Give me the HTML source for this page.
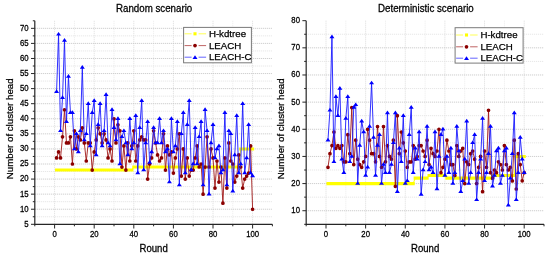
<!DOCTYPE html>
<html><head><meta charset="utf-8"><title>Number of cluster head</title>
<style>
html,body{margin:0;padding:0;background:#fff;}
body{width:550px;height:258px;overflow:hidden;}
svg{display:block;font-family:"Liberation Sans", Arial, sans-serif;}
text{stroke:#000;stroke-width:0.25px;}
</style></head>
<body><svg width="550" height="258" viewBox="0 0 550 258">
<rect width="550" height="258" fill="#fff"/>
<path d="M74.4 20.79L74.4 224.3M114 20.79L114 224.3M153.6 20.79L153.6 224.3M193.2 20.79L193.2 224.3M232.8 20.79L232.8 224.3" stroke="#ebebeb" stroke-width="1" stroke-dasharray="1 1" fill="none"/>
<path d="M54.6 20.79L54.6 224.3M94.2 20.79L94.2 224.3M133.8 20.79L133.8 224.3M173.4 20.79L173.4 224.3M213 20.79L213 224.3M252.6 20.79L252.6 224.3" stroke="#dcdcdc" stroke-width="1" stroke-dasharray="1 1" fill="none"/>
<path d="M34.8 216.76L272.4 216.76M34.8 201.69L272.4 201.69M34.8 186.61L272.4 186.61M34.8 171.54L272.4 171.54M34.8 156.46L272.4 156.46M34.8 141.39L272.4 141.39M34.8 126.31L272.4 126.31M34.8 111.24L272.4 111.24M34.8 96.16L272.4 96.16M34.8 81.09L272.4 81.09M34.8 66.01L272.4 66.01M34.8 50.94L272.4 50.94M34.8 35.86L272.4 35.86" stroke="#e2e2e2" stroke-width="1" stroke-dasharray="1 1" fill="none"/>
<path d="M34.8 209.23L272.4 209.23M34.8 194.15L272.4 194.15M34.8 179.08L272.4 179.08M34.8 164L272.4 164M34.8 148.93L272.4 148.93M34.8 133.85L272.4 133.85M34.8 118.78L272.4 118.78M34.8 103.7L272.4 103.7M34.8 88.62L272.4 88.62M34.8 73.55L272.4 73.55M34.8 58.47L272.4 58.47M34.8 43.4L272.4 43.4M34.8 28.33L272.4 28.33" stroke="#c4c4c4" stroke-width="1" stroke-dasharray="1 1" fill="none"/>
<polyline points="56.58,170.03 58.56,170.03 60.54,170.03 62.52,170.03 64.5,170.03 66.48,170.03 68.46,170.03 70.44,170.03 72.42,170.03 74.4,170.03 76.38,170.03 78.36,170.03 80.34,170.03 82.32,170.03 84.3,170.03 86.28,170.03 88.26,170.03 90.24,170.03 92.22,170.03 94.2,170.03 96.18,170.03 98.16,170.03 100.14,170.03 102.12,170.03 104.1,170.03 106.08,170.03 108.06,170.03 110.04,170.03 112.02,170.03 114,170.03 115.98,170.03 117.96,170.03 119.94,170.03 121.92,170.03 123.9,170.03 125.88,170.03 127.86,170.03 129.84,170.03 131.82,170.03 133.8,167.02 135.78,167.02 137.76,167.02 139.74,167.02 141.72,167.02 143.7,167.02 145.68,167.02 147.66,167.02 149.64,167.02 151.62,167.02 153.6,167.02 155.58,167.02 157.56,167.02 159.54,167.02 161.52,167.02 163.5,167.02 165.48,167.02 167.46,167.02 169.44,167.02 171.42,167.02 173.4,167.02 175.38,167.02 177.36,167.02 179.34,167.02 181.32,167.02 183.3,167.02 185.28,167.02 187.26,167.02 189.24,167.02 191.22,167.02 193.2,167.02 195.18,167.02 197.16,167.02 199.14,167.02 201.12,167.02 203.1,167.02 205.08,167.02 207.06,167.02 209.04,167.02 211.02,167.02 213,167.02 214.98,167.02 216.96,167.02 218.94,167.02 220.92,167.02 222.9,167.02 224.88,167.02 226.86,167.02 228.84,167.02 230.82,167.02 232.8,167.02 234.78,167.02 236.76,167.02 238.74,167.02 240.72,148.93 242.7,148.93 244.68,148.93 246.66,148.93 248.64,148.93 250.62,148.93 252.6,148.93" fill="none" stroke="#ffff00" stroke-width="1"/>
<path d="M55.03 168.48h3.1v3.1h-3.1zM57.01 168.48h3.1v3.1h-3.1zM58.99 168.48h3.1v3.1h-3.1zM60.97 168.48h3.1v3.1h-3.1zM62.95 168.48h3.1v3.1h-3.1zM64.93 168.48h3.1v3.1h-3.1zM66.91 168.48h3.1v3.1h-3.1zM68.89 168.48h3.1v3.1h-3.1zM70.87 168.48h3.1v3.1h-3.1zM72.85 168.48h3.1v3.1h-3.1zM74.83 168.48h3.1v3.1h-3.1zM76.81 168.48h3.1v3.1h-3.1zM78.79 168.48h3.1v3.1h-3.1zM80.77 168.48h3.1v3.1h-3.1zM82.75 168.48h3.1v3.1h-3.1zM84.73 168.48h3.1v3.1h-3.1zM86.71 168.48h3.1v3.1h-3.1zM88.69 168.48h3.1v3.1h-3.1zM90.67 168.48h3.1v3.1h-3.1zM92.65 168.48h3.1v3.1h-3.1zM94.63 168.48h3.1v3.1h-3.1zM96.61 168.48h3.1v3.1h-3.1zM98.59 168.48h3.1v3.1h-3.1zM100.57 168.48h3.1v3.1h-3.1zM102.55 168.48h3.1v3.1h-3.1zM104.53 168.48h3.1v3.1h-3.1zM106.51 168.48h3.1v3.1h-3.1zM108.49 168.48h3.1v3.1h-3.1zM110.47 168.48h3.1v3.1h-3.1zM112.45 168.48h3.1v3.1h-3.1zM114.43 168.48h3.1v3.1h-3.1zM116.41 168.48h3.1v3.1h-3.1zM118.39 168.48h3.1v3.1h-3.1zM120.37 168.48h3.1v3.1h-3.1zM122.35 168.48h3.1v3.1h-3.1zM124.33 168.48h3.1v3.1h-3.1zM126.31 168.48h3.1v3.1h-3.1zM128.29 168.48h3.1v3.1h-3.1zM130.27 168.48h3.1v3.1h-3.1zM132.25 165.47h3.1v3.1h-3.1zM134.23 165.47h3.1v3.1h-3.1zM136.21 165.47h3.1v3.1h-3.1zM138.19 165.47h3.1v3.1h-3.1zM140.17 165.47h3.1v3.1h-3.1zM142.15 165.47h3.1v3.1h-3.1zM144.13 165.47h3.1v3.1h-3.1zM146.11 165.47h3.1v3.1h-3.1zM148.09 165.47h3.1v3.1h-3.1zM150.07 165.47h3.1v3.1h-3.1zM152.05 165.47h3.1v3.1h-3.1zM154.03 165.47h3.1v3.1h-3.1zM156.01 165.47h3.1v3.1h-3.1zM157.99 165.47h3.1v3.1h-3.1zM159.97 165.47h3.1v3.1h-3.1zM161.95 165.47h3.1v3.1h-3.1zM163.93 165.47h3.1v3.1h-3.1zM165.91 165.47h3.1v3.1h-3.1zM167.89 165.47h3.1v3.1h-3.1zM169.87 165.47h3.1v3.1h-3.1zM171.85 165.47h3.1v3.1h-3.1zM173.83 165.47h3.1v3.1h-3.1zM175.81 165.47h3.1v3.1h-3.1zM177.79 165.47h3.1v3.1h-3.1zM179.77 165.47h3.1v3.1h-3.1zM181.75 165.47h3.1v3.1h-3.1zM183.73 165.47h3.1v3.1h-3.1zM185.71 165.47h3.1v3.1h-3.1zM187.69 165.47h3.1v3.1h-3.1zM189.67 165.47h3.1v3.1h-3.1zM191.65 165.47h3.1v3.1h-3.1zM193.63 165.47h3.1v3.1h-3.1zM195.61 165.47h3.1v3.1h-3.1zM197.59 165.47h3.1v3.1h-3.1zM199.57 165.47h3.1v3.1h-3.1zM201.55 165.47h3.1v3.1h-3.1zM203.53 165.47h3.1v3.1h-3.1zM205.51 165.47h3.1v3.1h-3.1zM207.49 165.47h3.1v3.1h-3.1zM209.47 165.47h3.1v3.1h-3.1zM211.45 165.47h3.1v3.1h-3.1zM213.43 165.47h3.1v3.1h-3.1zM215.41 165.47h3.1v3.1h-3.1zM217.39 165.47h3.1v3.1h-3.1zM219.37 165.47h3.1v3.1h-3.1zM221.35 165.47h3.1v3.1h-3.1zM223.33 165.47h3.1v3.1h-3.1zM225.31 165.47h3.1v3.1h-3.1zM227.29 165.47h3.1v3.1h-3.1zM229.27 165.47h3.1v3.1h-3.1zM231.25 165.47h3.1v3.1h-3.1zM233.23 165.47h3.1v3.1h-3.1zM235.21 165.47h3.1v3.1h-3.1zM237.19 165.47h3.1v3.1h-3.1zM239.17 147.38h3.1v3.1h-3.1zM241.15 147.38h3.1v3.1h-3.1zM243.13 147.38h3.1v3.1h-3.1zM245.11 147.38h3.1v3.1h-3.1zM247.09 147.38h3.1v3.1h-3.1zM249.07 147.38h3.1v3.1h-3.1zM251.05 147.38h3.1v3.1h-3.1z" fill="#ffff00"/>
<polyline points="56.58,157.97 58.56,151.94 60.54,157.97 62.52,136.87 64.5,109.73 66.48,142.9 68.46,142.9 70.44,136.87 72.42,164 74.4,130.84 76.38,148.93 78.36,136.87 80.34,139.88 82.32,127.82 84.3,142.9 86.28,160.99 88.26,142.9 90.24,142.9 92.22,170.03 94.2,151.94 96.18,139.88 98.16,127.82 100.14,133.85 102.12,142.9 104.1,133.85 106.08,139.88 108.06,157.97 110.04,148.93 112.02,160.99 114,118.78 115.98,142.9 117.96,124.81 119.94,130.84 121.92,167.02 123.9,145.91 125.88,170.03 127.86,142.9 129.84,160.99 131.82,145.91 133.8,130.84 135.78,160.99 137.76,145.91 139.74,139.88 141.72,136.87 143.7,139.88 145.68,139.88 147.66,179.08 149.64,164 151.62,157.97 153.6,130.84 155.58,142.9 157.56,154.96 159.54,160.99 161.52,157.97 163.5,133.85 165.48,170.03 167.46,145.91 169.44,154.96 171.42,151.94 173.4,173.05 175.38,157.97 177.36,148.93 179.34,133.85 181.32,176.06 183.3,148.93 185.28,179.08 187.26,157.97 189.24,176.06 191.22,170.03 193.2,170.03 195.18,157.97 197.16,145.91 199.14,167.02 201.12,164 203.1,194.15 205.08,167.02 207.06,136.87 209.04,167.02 211.02,148.93 213,157.97 214.98,188.12 216.96,160.99 218.94,182.09 220.92,167.02 222.9,203.2 224.88,157.97 226.86,188.12 228.84,142.9 230.82,160.99 232.8,164 234.78,182.09 236.76,176.06 238.74,154.96 240.72,167.02 242.7,188.12 244.68,179.08 246.66,176.06 248.64,173.05 250.62,145.91 252.6,209.23" fill="none" stroke="#a01818" stroke-width="0.9" stroke-linejoin="round"/>
<path d="M54.73 157.97a1.85 1.85 0 1 0 3.7 0a1.85 1.85 0 1 0 -3.7 0zM56.71 151.94a1.85 1.85 0 1 0 3.7 0a1.85 1.85 0 1 0 -3.7 0zM58.69 157.97a1.85 1.85 0 1 0 3.7 0a1.85 1.85 0 1 0 -3.7 0zM60.67 136.87a1.85 1.85 0 1 0 3.7 0a1.85 1.85 0 1 0 -3.7 0zM62.65 109.73a1.85 1.85 0 1 0 3.7 0a1.85 1.85 0 1 0 -3.7 0zM64.63 142.9a1.85 1.85 0 1 0 3.7 0a1.85 1.85 0 1 0 -3.7 0zM66.61 142.9a1.85 1.85 0 1 0 3.7 0a1.85 1.85 0 1 0 -3.7 0zM68.59 136.87a1.85 1.85 0 1 0 3.7 0a1.85 1.85 0 1 0 -3.7 0zM70.57 164a1.85 1.85 0 1 0 3.7 0a1.85 1.85 0 1 0 -3.7 0zM72.55 130.84a1.85 1.85 0 1 0 3.7 0a1.85 1.85 0 1 0 -3.7 0zM74.53 148.93a1.85 1.85 0 1 0 3.7 0a1.85 1.85 0 1 0 -3.7 0zM76.51 136.87a1.85 1.85 0 1 0 3.7 0a1.85 1.85 0 1 0 -3.7 0zM78.49 139.88a1.85 1.85 0 1 0 3.7 0a1.85 1.85 0 1 0 -3.7 0zM80.47 127.82a1.85 1.85 0 1 0 3.7 0a1.85 1.85 0 1 0 -3.7 0zM82.45 142.9a1.85 1.85 0 1 0 3.7 0a1.85 1.85 0 1 0 -3.7 0zM84.43 160.99a1.85 1.85 0 1 0 3.7 0a1.85 1.85 0 1 0 -3.7 0zM86.41 142.9a1.85 1.85 0 1 0 3.7 0a1.85 1.85 0 1 0 -3.7 0zM88.39 142.9a1.85 1.85 0 1 0 3.7 0a1.85 1.85 0 1 0 -3.7 0zM90.37 170.03a1.85 1.85 0 1 0 3.7 0a1.85 1.85 0 1 0 -3.7 0zM92.35 151.94a1.85 1.85 0 1 0 3.7 0a1.85 1.85 0 1 0 -3.7 0zM94.33 139.88a1.85 1.85 0 1 0 3.7 0a1.85 1.85 0 1 0 -3.7 0zM96.31 127.82a1.85 1.85 0 1 0 3.7 0a1.85 1.85 0 1 0 -3.7 0zM98.29 133.85a1.85 1.85 0 1 0 3.7 0a1.85 1.85 0 1 0 -3.7 0zM100.27 142.9a1.85 1.85 0 1 0 3.7 0a1.85 1.85 0 1 0 -3.7 0zM102.25 133.85a1.85 1.85 0 1 0 3.7 0a1.85 1.85 0 1 0 -3.7 0zM104.23 139.88a1.85 1.85 0 1 0 3.7 0a1.85 1.85 0 1 0 -3.7 0zM106.21 157.97a1.85 1.85 0 1 0 3.7 0a1.85 1.85 0 1 0 -3.7 0zM108.19 148.93a1.85 1.85 0 1 0 3.7 0a1.85 1.85 0 1 0 -3.7 0zM110.17 160.99a1.85 1.85 0 1 0 3.7 0a1.85 1.85 0 1 0 -3.7 0zM112.15 118.78a1.85 1.85 0 1 0 3.7 0a1.85 1.85 0 1 0 -3.7 0zM114.13 142.9a1.85 1.85 0 1 0 3.7 0a1.85 1.85 0 1 0 -3.7 0zM116.11 124.81a1.85 1.85 0 1 0 3.7 0a1.85 1.85 0 1 0 -3.7 0zM118.09 130.84a1.85 1.85 0 1 0 3.7 0a1.85 1.85 0 1 0 -3.7 0zM120.07 167.02a1.85 1.85 0 1 0 3.7 0a1.85 1.85 0 1 0 -3.7 0zM122.05 145.91a1.85 1.85 0 1 0 3.7 0a1.85 1.85 0 1 0 -3.7 0zM124.03 170.03a1.85 1.85 0 1 0 3.7 0a1.85 1.85 0 1 0 -3.7 0zM126.01 142.9a1.85 1.85 0 1 0 3.7 0a1.85 1.85 0 1 0 -3.7 0zM127.99 160.99a1.85 1.85 0 1 0 3.7 0a1.85 1.85 0 1 0 -3.7 0zM129.97 145.91a1.85 1.85 0 1 0 3.7 0a1.85 1.85 0 1 0 -3.7 0zM131.95 130.84a1.85 1.85 0 1 0 3.7 0a1.85 1.85 0 1 0 -3.7 0zM133.93 160.99a1.85 1.85 0 1 0 3.7 0a1.85 1.85 0 1 0 -3.7 0zM135.91 145.91a1.85 1.85 0 1 0 3.7 0a1.85 1.85 0 1 0 -3.7 0zM137.89 139.88a1.85 1.85 0 1 0 3.7 0a1.85 1.85 0 1 0 -3.7 0zM139.87 136.87a1.85 1.85 0 1 0 3.7 0a1.85 1.85 0 1 0 -3.7 0zM141.85 139.88a1.85 1.85 0 1 0 3.7 0a1.85 1.85 0 1 0 -3.7 0zM143.83 139.88a1.85 1.85 0 1 0 3.7 0a1.85 1.85 0 1 0 -3.7 0zM145.81 179.08a1.85 1.85 0 1 0 3.7 0a1.85 1.85 0 1 0 -3.7 0zM147.79 164a1.85 1.85 0 1 0 3.7 0a1.85 1.85 0 1 0 -3.7 0zM149.77 157.97a1.85 1.85 0 1 0 3.7 0a1.85 1.85 0 1 0 -3.7 0zM151.75 130.84a1.85 1.85 0 1 0 3.7 0a1.85 1.85 0 1 0 -3.7 0zM153.73 142.9a1.85 1.85 0 1 0 3.7 0a1.85 1.85 0 1 0 -3.7 0zM155.71 154.96a1.85 1.85 0 1 0 3.7 0a1.85 1.85 0 1 0 -3.7 0zM157.69 160.99a1.85 1.85 0 1 0 3.7 0a1.85 1.85 0 1 0 -3.7 0zM159.67 157.97a1.85 1.85 0 1 0 3.7 0a1.85 1.85 0 1 0 -3.7 0zM161.65 133.85a1.85 1.85 0 1 0 3.7 0a1.85 1.85 0 1 0 -3.7 0zM163.63 170.03a1.85 1.85 0 1 0 3.7 0a1.85 1.85 0 1 0 -3.7 0zM165.61 145.91a1.85 1.85 0 1 0 3.7 0a1.85 1.85 0 1 0 -3.7 0zM167.59 154.96a1.85 1.85 0 1 0 3.7 0a1.85 1.85 0 1 0 -3.7 0zM169.57 151.94a1.85 1.85 0 1 0 3.7 0a1.85 1.85 0 1 0 -3.7 0zM171.55 173.05a1.85 1.85 0 1 0 3.7 0a1.85 1.85 0 1 0 -3.7 0zM173.53 157.97a1.85 1.85 0 1 0 3.7 0a1.85 1.85 0 1 0 -3.7 0zM175.51 148.93a1.85 1.85 0 1 0 3.7 0a1.85 1.85 0 1 0 -3.7 0zM177.49 133.85a1.85 1.85 0 1 0 3.7 0a1.85 1.85 0 1 0 -3.7 0zM179.47 176.06a1.85 1.85 0 1 0 3.7 0a1.85 1.85 0 1 0 -3.7 0zM181.45 148.93a1.85 1.85 0 1 0 3.7 0a1.85 1.85 0 1 0 -3.7 0zM183.43 179.08a1.85 1.85 0 1 0 3.7 0a1.85 1.85 0 1 0 -3.7 0zM185.41 157.97a1.85 1.85 0 1 0 3.7 0a1.85 1.85 0 1 0 -3.7 0zM187.39 176.06a1.85 1.85 0 1 0 3.7 0a1.85 1.85 0 1 0 -3.7 0zM189.37 170.03a1.85 1.85 0 1 0 3.7 0a1.85 1.85 0 1 0 -3.7 0zM191.35 170.03a1.85 1.85 0 1 0 3.7 0a1.85 1.85 0 1 0 -3.7 0zM193.33 157.97a1.85 1.85 0 1 0 3.7 0a1.85 1.85 0 1 0 -3.7 0zM195.31 145.91a1.85 1.85 0 1 0 3.7 0a1.85 1.85 0 1 0 -3.7 0zM197.29 167.02a1.85 1.85 0 1 0 3.7 0a1.85 1.85 0 1 0 -3.7 0zM199.27 164a1.85 1.85 0 1 0 3.7 0a1.85 1.85 0 1 0 -3.7 0zM201.25 194.15a1.85 1.85 0 1 0 3.7 0a1.85 1.85 0 1 0 -3.7 0zM203.23 167.02a1.85 1.85 0 1 0 3.7 0a1.85 1.85 0 1 0 -3.7 0zM205.21 136.87a1.85 1.85 0 1 0 3.7 0a1.85 1.85 0 1 0 -3.7 0zM207.19 167.02a1.85 1.85 0 1 0 3.7 0a1.85 1.85 0 1 0 -3.7 0zM209.17 148.93a1.85 1.85 0 1 0 3.7 0a1.85 1.85 0 1 0 -3.7 0zM211.15 157.97a1.85 1.85 0 1 0 3.7 0a1.85 1.85 0 1 0 -3.7 0zM213.13 188.12a1.85 1.85 0 1 0 3.7 0a1.85 1.85 0 1 0 -3.7 0zM215.11 160.99a1.85 1.85 0 1 0 3.7 0a1.85 1.85 0 1 0 -3.7 0zM217.09 182.09a1.85 1.85 0 1 0 3.7 0a1.85 1.85 0 1 0 -3.7 0zM219.07 167.02a1.85 1.85 0 1 0 3.7 0a1.85 1.85 0 1 0 -3.7 0zM221.05 203.2a1.85 1.85 0 1 0 3.7 0a1.85 1.85 0 1 0 -3.7 0zM223.03 157.97a1.85 1.85 0 1 0 3.7 0a1.85 1.85 0 1 0 -3.7 0zM225.01 188.12a1.85 1.85 0 1 0 3.7 0a1.85 1.85 0 1 0 -3.7 0zM226.99 142.9a1.85 1.85 0 1 0 3.7 0a1.85 1.85 0 1 0 -3.7 0zM228.97 160.99a1.85 1.85 0 1 0 3.7 0a1.85 1.85 0 1 0 -3.7 0zM230.95 164a1.85 1.85 0 1 0 3.7 0a1.85 1.85 0 1 0 -3.7 0zM232.93 182.09a1.85 1.85 0 1 0 3.7 0a1.85 1.85 0 1 0 -3.7 0zM234.91 176.06a1.85 1.85 0 1 0 3.7 0a1.85 1.85 0 1 0 -3.7 0zM236.89 154.96a1.85 1.85 0 1 0 3.7 0a1.85 1.85 0 1 0 -3.7 0zM238.87 167.02a1.85 1.85 0 1 0 3.7 0a1.85 1.85 0 1 0 -3.7 0zM240.85 188.12a1.85 1.85 0 1 0 3.7 0a1.85 1.85 0 1 0 -3.7 0zM242.83 179.08a1.85 1.85 0 1 0 3.7 0a1.85 1.85 0 1 0 -3.7 0zM244.81 176.06a1.85 1.85 0 1 0 3.7 0a1.85 1.85 0 1 0 -3.7 0zM246.79 173.05a1.85 1.85 0 1 0 3.7 0a1.85 1.85 0 1 0 -3.7 0zM248.77 145.91a1.85 1.85 0 1 0 3.7 0a1.85 1.85 0 1 0 -3.7 0zM250.75 209.23a1.85 1.85 0 1 0 3.7 0a1.85 1.85 0 1 0 -3.7 0z" fill="#8b0000"/>
<polyline points="56.58,91.64 58.56,34.35 60.54,130.84 62.52,97.67 64.5,40.38 66.48,121.79 68.46,76.56 70.44,112.75 72.42,112.75 74.4,148.93 76.38,133.85 78.36,151.94 80.34,130.84 82.32,67.52 84.3,139.88 86.28,133.85 88.26,103.7 90.24,145.91 92.22,112.75 94.2,100.69 96.18,154.96 98.16,124.81 100.14,103.7 102.12,145.91 104.1,130.84 106.08,94.66 108.06,142.9 110.04,145.91 112.02,109.73 114,127.82 115.98,139.88 117.96,118.78 119.94,164 121.92,136.87 123.9,130.84 125.88,142.9 127.86,154.96 129.84,118.78 131.82,148.93 133.8,142.9 135.78,115.76 137.76,173.05 139.74,127.82 141.72,100.69 143.7,170.03 145.68,142.9 147.66,121.79 149.64,162.49 151.62,151.94 153.6,127.82 155.58,142.9 157.56,142.9 159.54,118.78 161.52,142.9 163.5,130.84 165.48,151.94 167.46,148.93 169.44,182.09 171.42,118.78 173.4,151.94 175.38,145.91 177.36,121.79 179.34,185.11 181.32,133.85 183.3,112.75 185.28,173.05 187.26,124.81 189.24,100.69 191.22,170.03 193.2,164 195.18,127.82 197.16,164 199.14,136.87 201.12,121.79 203.1,185.11 205.08,109.73 207.06,130.84 209.04,194.15 211.02,142.9 213,124.81 214.98,157.97 216.96,148.93 218.94,145.91 220.92,173.05 222.9,170.03 224.88,112.75 226.86,185.11 228.84,130.84 230.82,133.85 232.8,191.14 234.78,154.96 236.76,115.76 238.74,173.05 240.72,164 242.7,103.7 244.68,173.05 246.66,157.97 248.64,124.81 250.62,173.05 252.6,176.06" fill="none" stroke="#1a1aff" stroke-width="0.9" stroke-linejoin="round"/>
<path d="M56.58 89.19l2.5 3.7h-5zM58.56 31.9l2.5 3.7h-5zM60.54 128.39l2.5 3.7h-5zM62.52 95.22l2.5 3.7h-5zM64.5 37.93l2.5 3.7h-5zM66.48 119.34l2.5 3.7h-5zM68.46 74.12l2.5 3.7h-5zM70.44 110.3l2.5 3.7h-5zM72.42 110.3l2.5 3.7h-5zM74.4 146.48l2.5 3.7h-5zM76.38 131.4l2.5 3.7h-5zM78.36 149.49l2.5 3.7h-5zM80.34 128.39l2.5 3.7h-5zM82.32 65.07l2.5 3.7h-5zM84.3 137.43l2.5 3.7h-5zM86.28 131.4l2.5 3.7h-5zM88.26 101.25l2.5 3.7h-5zM90.24 143.46l2.5 3.7h-5zM92.22 110.3l2.5 3.7h-5zM94.2 98.24l2.5 3.7h-5zM96.18 152.51l2.5 3.7h-5zM98.16 122.36l2.5 3.7h-5zM100.14 101.25l2.5 3.7h-5zM102.12 143.46l2.5 3.7h-5zM104.1 128.39l2.5 3.7h-5zM106.08 92.21l2.5 3.7h-5zM108.06 140.45l2.5 3.7h-5zM110.04 143.46l2.5 3.7h-5zM112.02 107.28l2.5 3.7h-5zM114 125.37l2.5 3.7h-5zM115.98 137.43l2.5 3.7h-5zM117.96 116.33l2.5 3.7h-5zM119.94 161.55l2.5 3.7h-5zM121.92 134.42l2.5 3.7h-5zM123.9 128.39l2.5 3.7h-5zM125.88 140.45l2.5 3.7h-5zM127.86 152.51l2.5 3.7h-5zM129.84 116.33l2.5 3.7h-5zM131.82 146.48l2.5 3.7h-5zM133.8 140.45l2.5 3.7h-5zM135.78 113.31l2.5 3.7h-5zM137.76 170.6l2.5 3.7h-5zM139.74 125.37l2.5 3.7h-5zM141.72 98.24l2.5 3.7h-5zM143.7 167.58l2.5 3.7h-5zM145.68 140.45l2.5 3.7h-5zM147.66 119.34l2.5 3.7h-5zM149.64 160.04l2.5 3.7h-5zM151.62 149.49l2.5 3.7h-5zM153.6 125.37l2.5 3.7h-5zM155.58 140.45l2.5 3.7h-5zM157.56 140.45l2.5 3.7h-5zM159.54 116.33l2.5 3.7h-5zM161.52 140.45l2.5 3.7h-5zM163.5 128.39l2.5 3.7h-5zM165.48 149.49l2.5 3.7h-5zM167.46 146.48l2.5 3.7h-5zM169.44 179.64l2.5 3.7h-5zM171.42 116.33l2.5 3.7h-5zM173.4 149.49l2.5 3.7h-5zM175.38 143.46l2.5 3.7h-5zM177.36 119.34l2.5 3.7h-5zM179.34 182.66l2.5 3.7h-5zM181.32 131.4l2.5 3.7h-5zM183.3 110.3l2.5 3.7h-5zM185.28 170.6l2.5 3.7h-5zM187.26 122.36l2.5 3.7h-5zM189.24 98.24l2.5 3.7h-5zM191.22 167.58l2.5 3.7h-5zM193.2 161.55l2.5 3.7h-5zM195.18 125.37l2.5 3.7h-5zM197.16 161.55l2.5 3.7h-5zM199.14 134.42l2.5 3.7h-5zM201.12 119.34l2.5 3.7h-5zM203.1 182.66l2.5 3.7h-5zM205.08 107.28l2.5 3.7h-5zM207.06 128.39l2.5 3.7h-5zM209.04 191.7l2.5 3.7h-5zM211.02 140.45l2.5 3.7h-5zM213 122.36l2.5 3.7h-5zM214.98 155.52l2.5 3.7h-5zM216.96 146.48l2.5 3.7h-5zM218.94 143.46l2.5 3.7h-5zM220.92 170.6l2.5 3.7h-5zM222.9 167.58l2.5 3.7h-5zM224.88 110.3l2.5 3.7h-5zM226.86 182.66l2.5 3.7h-5zM228.84 128.39l2.5 3.7h-5zM230.82 131.4l2.5 3.7h-5zM232.8 188.69l2.5 3.7h-5zM234.78 152.51l2.5 3.7h-5zM236.76 113.31l2.5 3.7h-5zM238.74 170.6l2.5 3.7h-5zM240.72 161.55l2.5 3.7h-5zM242.7 101.25l2.5 3.7h-5zM244.68 170.6l2.5 3.7h-5zM246.66 155.52l2.5 3.7h-5zM248.64 122.36l2.5 3.7h-5zM250.62 170.6l2.5 3.7h-5zM252.6 173.61l2.5 3.7h-5z" fill="#0000ff"/>
<path d="M34.8 20.79V224.3H272.4" stroke="#262626" stroke-width="1.2" fill="none"/>
<path d="M34.8 224.3v2M54.6 224.3v4.2M74.4 224.3v2M94.2 224.3v4.2M114 224.3v2M133.8 224.3v4.2M153.6 224.3v2M173.4 224.3v4.2M193.2 224.3v2M213 224.3v4.2M232.8 224.3v2M252.6 224.3v4.2M272.4 224.3v2M34.8 224.3h-3.8M34.8 216.76h-2M34.8 209.23h-3.8M34.8 201.69h-2M34.8 194.15h-3.8M34.8 186.61h-2M34.8 179.08h-3.8M34.8 171.54h-2M34.8 164h-3.8M34.8 156.46h-2M34.8 148.93h-3.8M34.8 141.39h-2M34.8 133.85h-3.8M34.8 126.31h-2M34.8 118.78h-3.8M34.8 111.24h-2M34.8 103.7h-3.8M34.8 96.16h-2M34.8 88.62h-3.8M34.8 81.09h-2M34.8 73.55h-3.8M34.8 66.01h-2M34.8 58.47h-3.8M34.8 50.94h-2M34.8 43.4h-3.8M34.8 35.86h-2M34.8 28.33h-3.8M34.8 20.79h-2" stroke="#262626" stroke-width="1" fill="none"/>
<g font-size="8.0" fill="#000"><text transform="translate(54.6 237.1) scale(0.97 1.06)" text-anchor="middle">0</text><text transform="translate(94.2 237.1) scale(0.97 1.06)" text-anchor="middle">20</text><text transform="translate(133.8 237.1) scale(0.97 1.06)" text-anchor="middle">40</text><text transform="translate(173.4 237.1) scale(0.97 1.06)" text-anchor="middle">60</text><text transform="translate(213 237.1) scale(0.97 1.06)" text-anchor="middle">80</text><text transform="translate(252.6 237.1) scale(0.97 1.06)" text-anchor="middle">100</text><text transform="translate(28.6 226.7) scale(0.97 1.06)" text-anchor="end">5</text><text transform="translate(28.6 211.63) scale(0.97 1.06)" text-anchor="end">10</text><text transform="translate(28.6 196.55) scale(0.97 1.06)" text-anchor="end">15</text><text transform="translate(28.6 181.48) scale(0.97 1.06)" text-anchor="end">20</text><text transform="translate(28.6 166.4) scale(0.97 1.06)" text-anchor="end">25</text><text transform="translate(28.6 151.33) scale(0.97 1.06)" text-anchor="end">30</text><text transform="translate(28.6 136.25) scale(0.97 1.06)" text-anchor="end">35</text><text transform="translate(28.6 121.18) scale(0.97 1.06)" text-anchor="end">40</text><text transform="translate(28.6 106.1) scale(0.97 1.06)" text-anchor="end">45</text><text transform="translate(28.6 91.03) scale(0.97 1.06)" text-anchor="end">50</text><text transform="translate(28.6 75.95) scale(0.97 1.06)" text-anchor="end">55</text><text transform="translate(28.6 60.87) scale(0.97 1.06)" text-anchor="end">60</text><text transform="translate(28.6 45.8) scale(0.97 1.06)" text-anchor="end">65</text><text transform="translate(28.6 30.73) scale(0.97 1.06)" text-anchor="end">70</text></g>
<text transform="translate(153.6 252.4) scale(1 1.06)" font-size="9.6" text-anchor="middle">Round</text>
<text transform="translate(12.8 128.8) rotate(-90) scale(1 0.92)" font-size="9.7" text-anchor="middle">Number of cluster head</text>
<text transform="translate(154.1 12.2) scale(1 1.06)" font-size="9.75" text-anchor="middle">Random scenario</text>
<rect x="183.6" y="27.4" width="67.8" height="35.4" fill="#fff" stroke="#7a7a7a" stroke-width="1"/>
<path d="M184.6 33.8H191.6M198.6 33.8H206.1" stroke="#ffff00" stroke-width="0.9" opacity="0.75" fill="none"/>
<rect x="193.45" y="32.25" width="3.1" height="3.1" fill="#ffff00"/>
<text transform="translate(208.9 37)" font-size="9.7">H-kdtree</text>
<path d="M184.6 45.6H191.6M198.6 45.6H206.1" stroke="#a01818" stroke-width="0.9" opacity="0.75" fill="none"/>
<circle cx="195" cy="45.6" r="1.85" fill="#8b0000"/>
<text transform="translate(208.9 48.8)" font-size="9.7">LEACH</text>
<path d="M184.6 57.2H191.6M198.6 57.2H206.1" stroke="#1a1aff" stroke-width="0.9" opacity="0.75" fill="none"/>
<path d="M195 55.35l2.5 3.7h-5z" fill="#0000ff"/>
<text transform="translate(208.9 60.4)" font-size="9.7">LEACH-C</text>
<path d="M345.82 20.68L345.82 224.3M385.46 20.68L385.46 224.3M425.1 20.68L425.1 224.3M464.74 20.68L464.74 224.3M504.38 20.68L504.38 224.3" stroke="#ebebeb" stroke-width="1" stroke-dasharray="1 1" fill="none"/>
<path d="M326 20.68L326 224.3M365.64 20.68L365.64 224.3M405.28 20.68L405.28 224.3M444.92 20.68L444.92 224.3M484.56 20.68L484.56 224.3M524.2 20.68L524.2 224.3" stroke="#dcdcdc" stroke-width="1" stroke-dasharray="1 1" fill="none"/>
<path d="M306.18 197.15L544.02 197.15M306.18 170L544.02 170M306.18 142.85L544.02 142.85M306.18 115.7L544.02 115.7M306.18 88.55L544.02 88.55M306.18 61.4L544.02 61.4M306.18 34.25L544.02 34.25" stroke="#e2e2e2" stroke-width="1" stroke-dasharray="1 1" fill="none"/>
<path d="M306.18 210.73L544.02 210.73M306.18 183.58L544.02 183.58M306.18 156.43L544.02 156.43M306.18 129.28L544.02 129.28M306.18 102.13L544.02 102.13M306.18 74.98L544.02 74.98M306.18 47.83L544.02 47.83" stroke="#c4c4c4" stroke-width="1" stroke-dasharray="1 1" fill="none"/>
<polyline points="327.98,183.58 329.96,183.58 331.95,183.58 333.93,183.58 335.91,183.58 337.89,183.58 339.87,183.58 341.86,183.58 343.84,183.58 345.82,183.58 347.8,183.58 349.78,183.58 351.77,183.58 353.75,183.58 355.73,183.58 357.71,183.58 359.69,183.58 361.68,183.58 363.66,183.58 365.64,183.58 367.62,183.58 369.6,183.58 371.59,183.58 373.57,183.58 375.55,183.58 377.53,183.58 379.51,183.58 381.5,183.58 383.48,183.58 385.46,183.58 387.44,183.58 389.42,183.58 391.41,183.58 393.39,183.58 395.37,183.58 397.35,183.58 399.33,183.58 401.32,183.58 403.3,183.58 405.28,183.58 407.26,183.58 409.24,183.58 411.23,183.58 413.21,183.58 415.19,178.15 417.17,178.15 419.15,178.15 421.14,178.15 423.12,178.15 425.1,178.15 427.08,178.15 429.06,175.43 431.05,175.43 433.03,175.43 435.01,175.43 436.99,175.43 438.97,175.43 440.96,175.43 442.94,175.43 444.92,175.43 446.9,178.15 448.88,178.15 450.87,178.15 452.85,178.15 454.83,178.15 456.81,178.15 458.79,178.15 460.78,178.15 462.76,178.15 464.74,178.15 466.72,178.15 468.7,178.15 470.69,178.15 472.67,178.15 474.65,178.15 476.63,178.15 478.61,178.15 480.6,178.15 482.58,178.15 484.56,178.15 486.54,178.15 488.52,178.15 490.51,178.15 492.49,175.43 494.47,175.43 496.45,175.43 498.43,175.43 500.42,175.43 502.4,175.43 504.38,175.43 506.36,175.43 508.34,175.43 510.33,175.43 512.31,175.43 514.29,175.43 516.27,156.43 518.25,156.43 520.24,156.43 522.22,156.43 524.2,156.43" fill="none" stroke="#ffff00" stroke-width="1"/>
<path d="M326.43 182.03h3.1v3.1h-3.1zM328.41 182.03h3.1v3.1h-3.1zM330.4 182.03h3.1v3.1h-3.1zM332.38 182.03h3.1v3.1h-3.1zM334.36 182.03h3.1v3.1h-3.1zM336.34 182.03h3.1v3.1h-3.1zM338.32 182.03h3.1v3.1h-3.1zM340.31 182.03h3.1v3.1h-3.1zM342.29 182.03h3.1v3.1h-3.1zM344.27 182.03h3.1v3.1h-3.1zM346.25 182.03h3.1v3.1h-3.1zM348.23 182.03h3.1v3.1h-3.1zM350.22 182.03h3.1v3.1h-3.1zM352.2 182.03h3.1v3.1h-3.1zM354.18 182.03h3.1v3.1h-3.1zM356.16 182.03h3.1v3.1h-3.1zM358.14 182.03h3.1v3.1h-3.1zM360.13 182.03h3.1v3.1h-3.1zM362.11 182.03h3.1v3.1h-3.1zM364.09 182.03h3.1v3.1h-3.1zM366.07 182.03h3.1v3.1h-3.1zM368.05 182.03h3.1v3.1h-3.1zM370.04 182.03h3.1v3.1h-3.1zM372.02 182.03h3.1v3.1h-3.1zM374 182.03h3.1v3.1h-3.1zM375.98 182.03h3.1v3.1h-3.1zM377.96 182.03h3.1v3.1h-3.1zM379.95 182.03h3.1v3.1h-3.1zM381.93 182.03h3.1v3.1h-3.1zM383.91 182.03h3.1v3.1h-3.1zM385.89 182.03h3.1v3.1h-3.1zM387.87 182.03h3.1v3.1h-3.1zM389.86 182.03h3.1v3.1h-3.1zM391.84 182.03h3.1v3.1h-3.1zM393.82 182.03h3.1v3.1h-3.1zM395.8 182.03h3.1v3.1h-3.1zM397.78 182.03h3.1v3.1h-3.1zM399.77 182.03h3.1v3.1h-3.1zM401.75 182.03h3.1v3.1h-3.1zM403.73 182.03h3.1v3.1h-3.1zM405.71 182.03h3.1v3.1h-3.1zM407.69 182.03h3.1v3.1h-3.1zM409.68 182.03h3.1v3.1h-3.1zM411.66 182.03h3.1v3.1h-3.1zM413.64 176.59h3.1v3.1h-3.1zM415.62 176.59h3.1v3.1h-3.1zM417.6 176.59h3.1v3.1h-3.1zM419.59 176.59h3.1v3.1h-3.1zM421.57 176.59h3.1v3.1h-3.1zM423.55 176.59h3.1v3.1h-3.1zM425.53 176.59h3.1v3.1h-3.1zM427.51 173.88h3.1v3.1h-3.1zM429.5 173.88h3.1v3.1h-3.1zM431.48 173.88h3.1v3.1h-3.1zM433.46 173.88h3.1v3.1h-3.1zM435.44 173.88h3.1v3.1h-3.1zM437.42 173.88h3.1v3.1h-3.1zM439.41 173.88h3.1v3.1h-3.1zM441.39 173.88h3.1v3.1h-3.1zM443.37 173.88h3.1v3.1h-3.1zM445.35 176.59h3.1v3.1h-3.1zM447.33 176.59h3.1v3.1h-3.1zM449.32 176.59h3.1v3.1h-3.1zM451.3 176.59h3.1v3.1h-3.1zM453.28 176.59h3.1v3.1h-3.1zM455.26 176.59h3.1v3.1h-3.1zM457.24 176.59h3.1v3.1h-3.1zM459.23 176.59h3.1v3.1h-3.1zM461.21 176.59h3.1v3.1h-3.1zM463.19 176.59h3.1v3.1h-3.1zM465.17 176.59h3.1v3.1h-3.1zM467.15 176.59h3.1v3.1h-3.1zM469.14 176.59h3.1v3.1h-3.1zM471.12 176.59h3.1v3.1h-3.1zM473.1 176.59h3.1v3.1h-3.1zM475.08 176.59h3.1v3.1h-3.1zM477.06 176.59h3.1v3.1h-3.1zM479.05 176.59h3.1v3.1h-3.1zM481.03 176.59h3.1v3.1h-3.1zM483.01 176.59h3.1v3.1h-3.1zM484.99 176.59h3.1v3.1h-3.1zM486.97 176.59h3.1v3.1h-3.1zM488.96 176.59h3.1v3.1h-3.1zM490.94 173.88h3.1v3.1h-3.1zM492.92 173.88h3.1v3.1h-3.1zM494.9 173.88h3.1v3.1h-3.1zM496.88 173.88h3.1v3.1h-3.1zM498.87 173.88h3.1v3.1h-3.1zM500.85 173.88h3.1v3.1h-3.1zM502.83 173.88h3.1v3.1h-3.1zM504.81 173.88h3.1v3.1h-3.1zM506.79 173.88h3.1v3.1h-3.1zM508.78 173.88h3.1v3.1h-3.1zM510.76 173.88h3.1v3.1h-3.1zM512.74 173.88h3.1v3.1h-3.1zM514.72 154.88h3.1v3.1h-3.1zM516.7 154.88h3.1v3.1h-3.1zM518.69 154.88h3.1v3.1h-3.1zM520.67 154.88h3.1v3.1h-3.1zM522.65 154.88h3.1v3.1h-3.1z" fill="#ffff00"/>
<polyline points="327.98,167.29 329.96,153.71 331.95,145.56 333.93,131.99 335.91,148.28 337.89,145.56 339.87,148.28 341.86,145.56 343.84,161.86 345.82,161.86 347.8,134.71 349.78,153.71 351.77,107.56 353.75,164.57 355.73,140.14 357.71,159.14 359.69,164.57 361.68,167.29 363.66,161.86 365.64,156.43 367.62,129.28 369.6,140.14 371.59,153.71 373.57,153.71 375.55,161.86 377.53,126.56 379.51,156.43 381.5,167.29 383.48,126.56 385.46,161.86 387.44,145.56 389.42,156.43 391.41,159.14 393.39,140.14 395.37,186.29 397.35,115.7 399.33,153.71 401.32,131.99 403.3,142.85 405.28,151 407.26,167.29 409.24,161.86 411.23,161.86 413.21,145.56 415.19,159.14 417.17,156.43 419.15,145.56 421.14,145.56 423.12,151 425.1,156.43 427.08,140.14 429.06,164.57 431.05,148.28 433.03,153.71 435.01,156.43 436.99,151 438.97,129.28 440.96,172.72 442.94,167.29 444.92,159.14 446.9,140.14 448.88,151 450.87,164.57 452.85,164.57 454.83,175.43 456.81,145.56 458.79,156.43 460.78,151 462.76,148.28 464.74,183.58 466.72,161.86 468.7,164.57 470.69,153.71 472.67,151 474.65,159.14 476.63,183.58 478.61,167.29 480.6,156.43 482.58,191.72 484.56,151 486.54,167.29 488.52,110.27 490.51,172.72 492.49,178.15 494.47,170 496.45,172.72 498.43,161.86 500.42,164.57 502.4,170 504.38,145.56 506.36,164.57 508.34,170 510.33,167.29 512.31,180.86 514.29,140.14 516.27,189 518.25,153.71 520.24,164.57 522.22,180.86 524.2,172.72" fill="none" stroke="#a01818" stroke-width="0.9" stroke-linejoin="round"/>
<path d="M326.13 167.29a1.85 1.85 0 1 0 3.7 0a1.85 1.85 0 1 0 -3.7 0zM328.11 153.71a1.85 1.85 0 1 0 3.7 0a1.85 1.85 0 1 0 -3.7 0zM330.1 145.56a1.85 1.85 0 1 0 3.7 0a1.85 1.85 0 1 0 -3.7 0zM332.08 131.99a1.85 1.85 0 1 0 3.7 0a1.85 1.85 0 1 0 -3.7 0zM334.06 148.28a1.85 1.85 0 1 0 3.7 0a1.85 1.85 0 1 0 -3.7 0zM336.04 145.56a1.85 1.85 0 1 0 3.7 0a1.85 1.85 0 1 0 -3.7 0zM338.02 148.28a1.85 1.85 0 1 0 3.7 0a1.85 1.85 0 1 0 -3.7 0zM340.01 145.56a1.85 1.85 0 1 0 3.7 0a1.85 1.85 0 1 0 -3.7 0zM341.99 161.86a1.85 1.85 0 1 0 3.7 0a1.85 1.85 0 1 0 -3.7 0zM343.97 161.86a1.85 1.85 0 1 0 3.7 0a1.85 1.85 0 1 0 -3.7 0zM345.95 134.71a1.85 1.85 0 1 0 3.7 0a1.85 1.85 0 1 0 -3.7 0zM347.93 153.71a1.85 1.85 0 1 0 3.7 0a1.85 1.85 0 1 0 -3.7 0zM349.92 107.56a1.85 1.85 0 1 0 3.7 0a1.85 1.85 0 1 0 -3.7 0zM351.9 164.57a1.85 1.85 0 1 0 3.7 0a1.85 1.85 0 1 0 -3.7 0zM353.88 140.14a1.85 1.85 0 1 0 3.7 0a1.85 1.85 0 1 0 -3.7 0zM355.86 159.14a1.85 1.85 0 1 0 3.7 0a1.85 1.85 0 1 0 -3.7 0zM357.84 164.57a1.85 1.85 0 1 0 3.7 0a1.85 1.85 0 1 0 -3.7 0zM359.83 167.29a1.85 1.85 0 1 0 3.7 0a1.85 1.85 0 1 0 -3.7 0zM361.81 161.86a1.85 1.85 0 1 0 3.7 0a1.85 1.85 0 1 0 -3.7 0zM363.79 156.43a1.85 1.85 0 1 0 3.7 0a1.85 1.85 0 1 0 -3.7 0zM365.77 129.28a1.85 1.85 0 1 0 3.7 0a1.85 1.85 0 1 0 -3.7 0zM367.75 140.14a1.85 1.85 0 1 0 3.7 0a1.85 1.85 0 1 0 -3.7 0zM369.74 153.71a1.85 1.85 0 1 0 3.7 0a1.85 1.85 0 1 0 -3.7 0zM371.72 153.71a1.85 1.85 0 1 0 3.7 0a1.85 1.85 0 1 0 -3.7 0zM373.7 161.86a1.85 1.85 0 1 0 3.7 0a1.85 1.85 0 1 0 -3.7 0zM375.68 126.56a1.85 1.85 0 1 0 3.7 0a1.85 1.85 0 1 0 -3.7 0zM377.66 156.43a1.85 1.85 0 1 0 3.7 0a1.85 1.85 0 1 0 -3.7 0zM379.65 167.29a1.85 1.85 0 1 0 3.7 0a1.85 1.85 0 1 0 -3.7 0zM381.63 126.56a1.85 1.85 0 1 0 3.7 0a1.85 1.85 0 1 0 -3.7 0zM383.61 161.86a1.85 1.85 0 1 0 3.7 0a1.85 1.85 0 1 0 -3.7 0zM385.59 145.56a1.85 1.85 0 1 0 3.7 0a1.85 1.85 0 1 0 -3.7 0zM387.57 156.43a1.85 1.85 0 1 0 3.7 0a1.85 1.85 0 1 0 -3.7 0zM389.56 159.14a1.85 1.85 0 1 0 3.7 0a1.85 1.85 0 1 0 -3.7 0zM391.54 140.14a1.85 1.85 0 1 0 3.7 0a1.85 1.85 0 1 0 -3.7 0zM393.52 186.29a1.85 1.85 0 1 0 3.7 0a1.85 1.85 0 1 0 -3.7 0zM395.5 115.7a1.85 1.85 0 1 0 3.7 0a1.85 1.85 0 1 0 -3.7 0zM397.48 153.71a1.85 1.85 0 1 0 3.7 0a1.85 1.85 0 1 0 -3.7 0zM399.47 131.99a1.85 1.85 0 1 0 3.7 0a1.85 1.85 0 1 0 -3.7 0zM401.45 142.85a1.85 1.85 0 1 0 3.7 0a1.85 1.85 0 1 0 -3.7 0zM403.43 151a1.85 1.85 0 1 0 3.7 0a1.85 1.85 0 1 0 -3.7 0zM405.41 167.29a1.85 1.85 0 1 0 3.7 0a1.85 1.85 0 1 0 -3.7 0zM407.39 161.86a1.85 1.85 0 1 0 3.7 0a1.85 1.85 0 1 0 -3.7 0zM409.38 161.86a1.85 1.85 0 1 0 3.7 0a1.85 1.85 0 1 0 -3.7 0zM411.36 145.56a1.85 1.85 0 1 0 3.7 0a1.85 1.85 0 1 0 -3.7 0zM413.34 159.14a1.85 1.85 0 1 0 3.7 0a1.85 1.85 0 1 0 -3.7 0zM415.32 156.43a1.85 1.85 0 1 0 3.7 0a1.85 1.85 0 1 0 -3.7 0zM417.3 145.56a1.85 1.85 0 1 0 3.7 0a1.85 1.85 0 1 0 -3.7 0zM419.29 145.56a1.85 1.85 0 1 0 3.7 0a1.85 1.85 0 1 0 -3.7 0zM421.27 151a1.85 1.85 0 1 0 3.7 0a1.85 1.85 0 1 0 -3.7 0zM423.25 156.43a1.85 1.85 0 1 0 3.7 0a1.85 1.85 0 1 0 -3.7 0zM425.23 140.14a1.85 1.85 0 1 0 3.7 0a1.85 1.85 0 1 0 -3.7 0zM427.21 164.57a1.85 1.85 0 1 0 3.7 0a1.85 1.85 0 1 0 -3.7 0zM429.2 148.28a1.85 1.85 0 1 0 3.7 0a1.85 1.85 0 1 0 -3.7 0zM431.18 153.71a1.85 1.85 0 1 0 3.7 0a1.85 1.85 0 1 0 -3.7 0zM433.16 156.43a1.85 1.85 0 1 0 3.7 0a1.85 1.85 0 1 0 -3.7 0zM435.14 151a1.85 1.85 0 1 0 3.7 0a1.85 1.85 0 1 0 -3.7 0zM437.12 129.28a1.85 1.85 0 1 0 3.7 0a1.85 1.85 0 1 0 -3.7 0zM439.11 172.72a1.85 1.85 0 1 0 3.7 0a1.85 1.85 0 1 0 -3.7 0zM441.09 167.29a1.85 1.85 0 1 0 3.7 0a1.85 1.85 0 1 0 -3.7 0zM443.07 159.14a1.85 1.85 0 1 0 3.7 0a1.85 1.85 0 1 0 -3.7 0zM445.05 140.14a1.85 1.85 0 1 0 3.7 0a1.85 1.85 0 1 0 -3.7 0zM447.03 151a1.85 1.85 0 1 0 3.7 0a1.85 1.85 0 1 0 -3.7 0zM449.02 164.57a1.85 1.85 0 1 0 3.7 0a1.85 1.85 0 1 0 -3.7 0zM451 164.57a1.85 1.85 0 1 0 3.7 0a1.85 1.85 0 1 0 -3.7 0zM452.98 175.43a1.85 1.85 0 1 0 3.7 0a1.85 1.85 0 1 0 -3.7 0zM454.96 145.56a1.85 1.85 0 1 0 3.7 0a1.85 1.85 0 1 0 -3.7 0zM456.94 156.43a1.85 1.85 0 1 0 3.7 0a1.85 1.85 0 1 0 -3.7 0zM458.93 151a1.85 1.85 0 1 0 3.7 0a1.85 1.85 0 1 0 -3.7 0zM460.91 148.28a1.85 1.85 0 1 0 3.7 0a1.85 1.85 0 1 0 -3.7 0zM462.89 183.58a1.85 1.85 0 1 0 3.7 0a1.85 1.85 0 1 0 -3.7 0zM464.87 161.86a1.85 1.85 0 1 0 3.7 0a1.85 1.85 0 1 0 -3.7 0zM466.85 164.57a1.85 1.85 0 1 0 3.7 0a1.85 1.85 0 1 0 -3.7 0zM468.84 153.71a1.85 1.85 0 1 0 3.7 0a1.85 1.85 0 1 0 -3.7 0zM470.82 151a1.85 1.85 0 1 0 3.7 0a1.85 1.85 0 1 0 -3.7 0zM472.8 159.14a1.85 1.85 0 1 0 3.7 0a1.85 1.85 0 1 0 -3.7 0zM474.78 183.58a1.85 1.85 0 1 0 3.7 0a1.85 1.85 0 1 0 -3.7 0zM476.76 167.29a1.85 1.85 0 1 0 3.7 0a1.85 1.85 0 1 0 -3.7 0zM478.75 156.43a1.85 1.85 0 1 0 3.7 0a1.85 1.85 0 1 0 -3.7 0zM480.73 191.72a1.85 1.85 0 1 0 3.7 0a1.85 1.85 0 1 0 -3.7 0zM482.71 151a1.85 1.85 0 1 0 3.7 0a1.85 1.85 0 1 0 -3.7 0zM484.69 167.29a1.85 1.85 0 1 0 3.7 0a1.85 1.85 0 1 0 -3.7 0zM486.67 110.27a1.85 1.85 0 1 0 3.7 0a1.85 1.85 0 1 0 -3.7 0zM488.66 172.72a1.85 1.85 0 1 0 3.7 0a1.85 1.85 0 1 0 -3.7 0zM490.64 178.15a1.85 1.85 0 1 0 3.7 0a1.85 1.85 0 1 0 -3.7 0zM492.62 170a1.85 1.85 0 1 0 3.7 0a1.85 1.85 0 1 0 -3.7 0zM494.6 172.72a1.85 1.85 0 1 0 3.7 0a1.85 1.85 0 1 0 -3.7 0zM496.58 161.86a1.85 1.85 0 1 0 3.7 0a1.85 1.85 0 1 0 -3.7 0zM498.57 164.57a1.85 1.85 0 1 0 3.7 0a1.85 1.85 0 1 0 -3.7 0zM500.55 170a1.85 1.85 0 1 0 3.7 0a1.85 1.85 0 1 0 -3.7 0zM502.53 145.56a1.85 1.85 0 1 0 3.7 0a1.85 1.85 0 1 0 -3.7 0zM504.51 164.57a1.85 1.85 0 1 0 3.7 0a1.85 1.85 0 1 0 -3.7 0zM506.49 170a1.85 1.85 0 1 0 3.7 0a1.85 1.85 0 1 0 -3.7 0zM508.48 167.29a1.85 1.85 0 1 0 3.7 0a1.85 1.85 0 1 0 -3.7 0zM510.46 180.86a1.85 1.85 0 1 0 3.7 0a1.85 1.85 0 1 0 -3.7 0zM512.44 140.14a1.85 1.85 0 1 0 3.7 0a1.85 1.85 0 1 0 -3.7 0zM514.42 189a1.85 1.85 0 1 0 3.7 0a1.85 1.85 0 1 0 -3.7 0zM516.4 153.71a1.85 1.85 0 1 0 3.7 0a1.85 1.85 0 1 0 -3.7 0zM518.39 164.57a1.85 1.85 0 1 0 3.7 0a1.85 1.85 0 1 0 -3.7 0zM520.37 180.86a1.85 1.85 0 1 0 3.7 0a1.85 1.85 0 1 0 -3.7 0zM522.35 172.72a1.85 1.85 0 1 0 3.7 0a1.85 1.85 0 1 0 -3.7 0z" fill="#8b0000"/>
<polyline points="327.98,140.14 329.96,110.27 331.95,36.97 333.93,161.86 335.91,96.7 337.89,115.7 339.87,88.55 341.86,159.14 343.84,172.72 345.82,118.42 347.8,96.7 349.78,161.86 351.77,156.43 353.75,107.56 355.73,104.84 357.71,183.58 359.69,145.56 361.68,121.13 363.66,131.99 365.64,175.43 367.62,167.29 369.6,126.56 371.59,83.12 373.57,137.42 375.55,175.43 377.53,145.56 379.51,134.71 381.5,183.58 383.48,164.57 385.46,172.72 387.44,112.99 389.42,172.72 391.41,164.57 393.39,142.85 395.37,112.99 397.35,191.72 399.33,148.28 401.32,161.86 403.3,115.7 405.28,183.58 407.26,180.86 409.24,134.71 411.23,107.56 413.21,172.72 415.19,148.28 417.17,159.14 419.15,131.99 421.14,194.44 423.12,170 425.1,161.86 427.08,126.56 429.06,170 431.05,167.29 433.03,172.72 435.01,131.99 436.99,189 438.97,156.43 440.96,134.71 442.94,129.28 444.92,175.43 446.9,156.43 448.88,172.72 450.87,148.28 452.85,183.58 454.83,172.72 456.81,126.56 458.79,151 460.78,191.72 462.76,180.86 464.74,159.14 466.72,121.13 468.7,183.58 470.69,172.72 472.67,142.85 474.65,134.71 476.63,199.87 478.61,172.72 480.6,159.14 482.58,118.42 484.56,180.86 486.54,172.72 488.52,153.71 490.51,126.56 492.49,186.29 494.47,175.43 496.45,151 498.43,148.28 500.42,183.58 502.4,175.43 504.38,151 506.36,148.28 508.34,205.3 510.33,178.15 512.31,153.71 514.29,112.99 516.27,199.87 518.25,172.72 520.24,137.42 522.22,159.14 524.2,172.72" fill="none" stroke="#1a1aff" stroke-width="0.9" stroke-linejoin="round"/>
<path d="M327.98 137.69l2.5 3.7h-5zM329.96 107.82l2.5 3.7h-5zM331.95 34.52l2.5 3.7h-5zM333.93 159.41l2.5 3.7h-5zM335.91 94.25l2.5 3.7h-5zM337.89 113.25l2.5 3.7h-5zM339.87 86.1l2.5 3.7h-5zM341.86 156.69l2.5 3.7h-5zM343.84 170.27l2.5 3.7h-5zM345.82 115.97l2.5 3.7h-5zM347.8 94.25l2.5 3.7h-5zM349.78 159.41l2.5 3.7h-5zM351.77 153.98l2.5 3.7h-5zM353.75 105.11l2.5 3.7h-5zM355.73 102.39l2.5 3.7h-5zM357.71 181.13l2.5 3.7h-5zM359.69 143.12l2.5 3.7h-5zM361.68 118.68l2.5 3.7h-5zM363.66 129.54l2.5 3.7h-5zM365.64 172.98l2.5 3.7h-5zM367.62 164.84l2.5 3.7h-5zM369.6 124.11l2.5 3.7h-5zM371.59 80.67l2.5 3.7h-5zM373.57 134.97l2.5 3.7h-5zM375.55 172.98l2.5 3.7h-5zM377.53 143.12l2.5 3.7h-5zM379.51 132.26l2.5 3.7h-5zM381.5 181.13l2.5 3.7h-5zM383.48 162.12l2.5 3.7h-5zM385.46 170.27l2.5 3.7h-5zM387.44 110.54l2.5 3.7h-5zM389.42 170.27l2.5 3.7h-5zM391.41 162.12l2.5 3.7h-5zM393.39 140.4l2.5 3.7h-5zM395.37 110.54l2.5 3.7h-5zM397.35 189.27l2.5 3.7h-5zM399.33 145.83l2.5 3.7h-5zM401.32 159.41l2.5 3.7h-5zM403.3 113.25l2.5 3.7h-5zM405.28 181.13l2.5 3.7h-5zM407.26 178.41l2.5 3.7h-5zM409.24 132.26l2.5 3.7h-5zM411.23 105.11l2.5 3.7h-5zM413.21 170.27l2.5 3.7h-5zM415.19 145.83l2.5 3.7h-5zM417.17 156.69l2.5 3.7h-5zM419.15 129.54l2.5 3.7h-5zM421.14 191.99l2.5 3.7h-5zM423.12 167.55l2.5 3.7h-5zM425.1 159.41l2.5 3.7h-5zM427.08 124.11l2.5 3.7h-5zM429.06 167.55l2.5 3.7h-5zM431.05 164.84l2.5 3.7h-5zM433.03 170.27l2.5 3.7h-5zM435.01 129.54l2.5 3.7h-5zM436.99 186.56l2.5 3.7h-5zM438.97 153.98l2.5 3.7h-5zM440.96 132.26l2.5 3.7h-5zM442.94 126.83l2.5 3.7h-5zM444.92 172.98l2.5 3.7h-5zM446.9 153.98l2.5 3.7h-5zM448.88 170.27l2.5 3.7h-5zM450.87 145.83l2.5 3.7h-5zM452.85 181.13l2.5 3.7h-5zM454.83 170.27l2.5 3.7h-5zM456.81 124.11l2.5 3.7h-5zM458.79 148.55l2.5 3.7h-5zM460.78 189.27l2.5 3.7h-5zM462.76 178.41l2.5 3.7h-5zM464.74 156.69l2.5 3.7h-5zM466.72 118.68l2.5 3.7h-5zM468.7 181.13l2.5 3.7h-5zM470.69 170.27l2.5 3.7h-5zM472.67 140.4l2.5 3.7h-5zM474.65 132.26l2.5 3.7h-5zM476.63 197.42l2.5 3.7h-5zM478.61 170.27l2.5 3.7h-5zM480.6 156.69l2.5 3.7h-5zM482.58 115.97l2.5 3.7h-5zM484.56 178.41l2.5 3.7h-5zM486.54 170.27l2.5 3.7h-5zM488.52 151.26l2.5 3.7h-5zM490.51 124.11l2.5 3.7h-5zM492.49 183.84l2.5 3.7h-5zM494.47 172.98l2.5 3.7h-5zM496.45 148.55l2.5 3.7h-5zM498.43 145.83l2.5 3.7h-5zM500.42 181.13l2.5 3.7h-5zM502.4 172.98l2.5 3.7h-5zM504.38 148.55l2.5 3.7h-5zM506.36 145.83l2.5 3.7h-5zM508.34 202.85l2.5 3.7h-5zM510.33 175.7l2.5 3.7h-5zM512.31 151.26l2.5 3.7h-5zM514.29 110.54l2.5 3.7h-5zM516.27 197.42l2.5 3.7h-5zM518.25 170.27l2.5 3.7h-5zM520.24 134.97l2.5 3.7h-5zM522.22 156.69l2.5 3.7h-5zM524.2 170.27l2.5 3.7h-5z" fill="#0000ff"/>
<path d="M306.18 20.68V224.3H544.02" stroke="#262626" stroke-width="1.2" fill="none"/>
<path d="M306.18 224.3v2M326 224.3v4.2M345.82 224.3v2M365.64 224.3v4.2M385.46 224.3v2M405.28 224.3v4.2M425.1 224.3v2M444.92 224.3v4.2M464.74 224.3v2M484.56 224.3v4.2M504.38 224.3v2M524.2 224.3v4.2M544.02 224.3v2M306.18 224.3h-2M306.18 210.73h-3.8M306.18 197.15h-2M306.18 183.58h-3.8M306.18 170h-2M306.18 156.43h-3.8M306.18 142.85h-2M306.18 129.28h-3.8M306.18 115.7h-2M306.18 102.13h-3.8M306.18 88.55h-2M306.18 74.98h-3.8M306.18 61.4h-2M306.18 47.83h-3.8M306.18 34.25h-2M306.18 20.68h-3.8" stroke="#262626" stroke-width="1" fill="none"/>
<g font-size="8.0" fill="#000"><text transform="translate(326 237.1) scale(0.97 1.06)" text-anchor="middle">0</text><text transform="translate(365.64 237.1) scale(0.97 1.06)" text-anchor="middle">20</text><text transform="translate(405.28 237.1) scale(0.97 1.06)" text-anchor="middle">40</text><text transform="translate(444.92 237.1) scale(0.97 1.06)" text-anchor="middle">60</text><text transform="translate(484.56 237.1) scale(0.97 1.06)" text-anchor="middle">80</text><text transform="translate(524.2 237.1) scale(0.97 1.06)" text-anchor="middle">100</text><text transform="translate(299.98 213.13) scale(0.97 1.06)" text-anchor="end">10</text><text transform="translate(299.98 185.98) scale(0.97 1.06)" text-anchor="end">20</text><text transform="translate(299.98 158.83) scale(0.97 1.06)" text-anchor="end">30</text><text transform="translate(299.98 131.68) scale(0.97 1.06)" text-anchor="end">40</text><text transform="translate(299.98 104.53) scale(0.97 1.06)" text-anchor="end">50</text><text transform="translate(299.98 77.38) scale(0.97 1.06)" text-anchor="end">60</text><text transform="translate(299.98 50.23) scale(0.97 1.06)" text-anchor="end">70</text><text transform="translate(299.98 23.08) scale(0.97 1.06)" text-anchor="end">80</text></g>
<text transform="translate(425.1 252.4) scale(1 1.06)" font-size="9.6" text-anchor="middle">Round</text>
<text transform="translate(284 128.8) rotate(-90) scale(1 0.92)" font-size="9.7" text-anchor="middle">Number of cluster head</text>
<text transform="translate(425.9 12.2) scale(1 1.06)" font-size="9.75" text-anchor="middle">Deterministic scenario</text>
<rect x="455.1" y="27.7" width="68" height="35.4" fill="#fff" stroke="#7a7a7a" stroke-width="1"/>
<path d="M456.1 35H463.1M470.1 35H477.6" stroke="#ffff00" stroke-width="0.9" opacity="0.75" fill="none"/>
<rect x="464.95" y="33.45" width="3.1" height="3.1" fill="#ffff00"/>
<text transform="translate(480.4 38.2)" font-size="9.7">H-kdtree</text>
<path d="M456.1 46.8H463.1M470.1 46.8H477.6" stroke="#a01818" stroke-width="0.9" opacity="0.75" fill="none"/>
<circle cx="466.5" cy="46.8" r="1.85" fill="#8b0000"/>
<text transform="translate(480.4 50)" font-size="9.7">LEACH</text>
<path d="M456.1 58.2H463.1M470.1 58.2H477.6" stroke="#1a1aff" stroke-width="0.9" opacity="0.75" fill="none"/>
<path d="M466.5 56.35l2.5 3.7h-5z" fill="#0000ff"/>
<text transform="translate(480.4 61.4)" font-size="9.7">LEACH-C</text>
</svg></body></html>
